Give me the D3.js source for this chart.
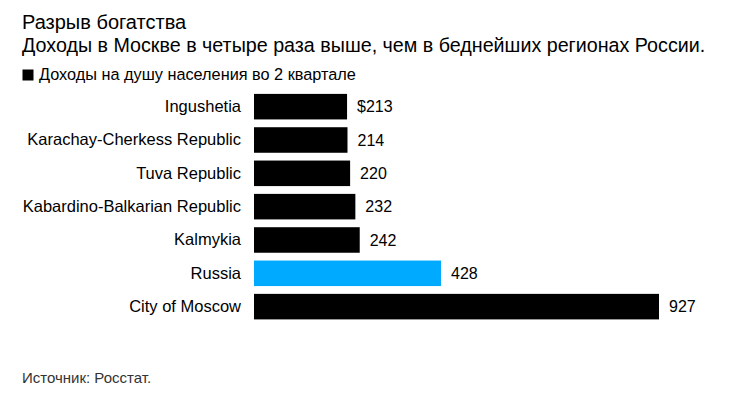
<!DOCTYPE html>
<html>
<head>
    <meta charset="utf-8">
    <title>Разрыв богатства</title>
    <script src="https://cdn.jsdelivr.net/npm/d3@7"></script>
    <style>
        body { margin: 0; background: #fff; }
        text { font-family: "Liberation Sans", Arial, sans-serif; }
    </style>
</head>
<body>
    <div id="chart"></div>
    <script>
        // data
        const regions = ["Ingushetia", "Karachay-Cherkess Republic", "Tuva Republic",
            "Kabardino-Balkarian Republic", "Kalmykia", "Russia", "City of Moscow"];
        const incomes = [213, 214, 220, 232, 242, 428, 927];
        const valueLabels = ["$213", "214", "220", "232", "242", "428", "927"];
        const highlight = "Russia";

        const width = 734, height = 394;

        const svg = d3.select("#chart").append("svg")
            .attr("width", width)
            .attr("height", height);

        // titles
        svg.append("text").attr("x", 22).attr("y", 29)
            .attr("font-size", 20).attr("fill", "#000")
            .text("Разрыв богатства");
        svg.append("text").attr("x", 22).attr("y", 52)
            .attr("font-size", 19.7).attr("fill", "#000")
            .text("Доходы в Москве в четыре раза выше, чем в беднейших регионах России.");

        // legend
        svg.append("rect").attr("x", 22.5).attr("y", 69.5)
            .attr("width", 11).attr("height", 11).attr("fill", "#000");
        svg.append("text").attr("x", 39).attr("y", 80)
            .attr("font-size", 16.3).attr("fill", "#000")
            .text("Доходы на душу населения во 2 квартале");

        let x = d3.scaleLinear()
            .domain([0, d3.max(incomes)])
            .range([254, 659]);

        let y = d3.scaleBand()
            .domain(regions)
            .range([90, 323.3])
            .paddingInner(0.234)
            .paddingOuter(0.117);

        let rows = regions.map((r, i) => ({ region: r, value: incomes[i], label: valueLabels[i] }));

        svg.append("g")
            .selectAll("rect")
            .data(rows)
            .enter().append("rect")
            .attr("x", x(0))
            .attr("y", d => y(d.region))
            .attr("width", d => x(d.value) - x(0))
            .attr("height", y.bandwidth())
            .attr("fill", d => d.region === highlight ? "#00aaff" : "#000");

        // category labels
        let axis = svg.append("g")
            .attr("transform", `translate(${x(0)},0)`)
            .call(d3.axisLeft(y).tickSize(0).tickPadding(13));
        axis.select(".domain").remove();
        axis.selectAll("text")
            .attr("font-size", 16.5)
            .attr("font-family", "Liberation Sans, Arial, sans-serif")
            .attr("fill", "#000");

        // value labels
        svg.append("g")
            .selectAll("text")
            .data(rows)
            .enter().append("text")
            .attr("x", d => x(d.value) + 10)
            .attr("y", d => y(d.region) + y.bandwidth() / 2)
            .attr("dy", "0.35em")
            .attr("font-size", 16)
            .attr("fill", "#000")
            .text(d => d.label);

        // source
        svg.append("text").attr("x", 22).attr("y", 383)
            .attr("font-size", 15).attr("fill", "#333")
            .text("Источник: Росстат.");
    </script>
</body>
</html>
